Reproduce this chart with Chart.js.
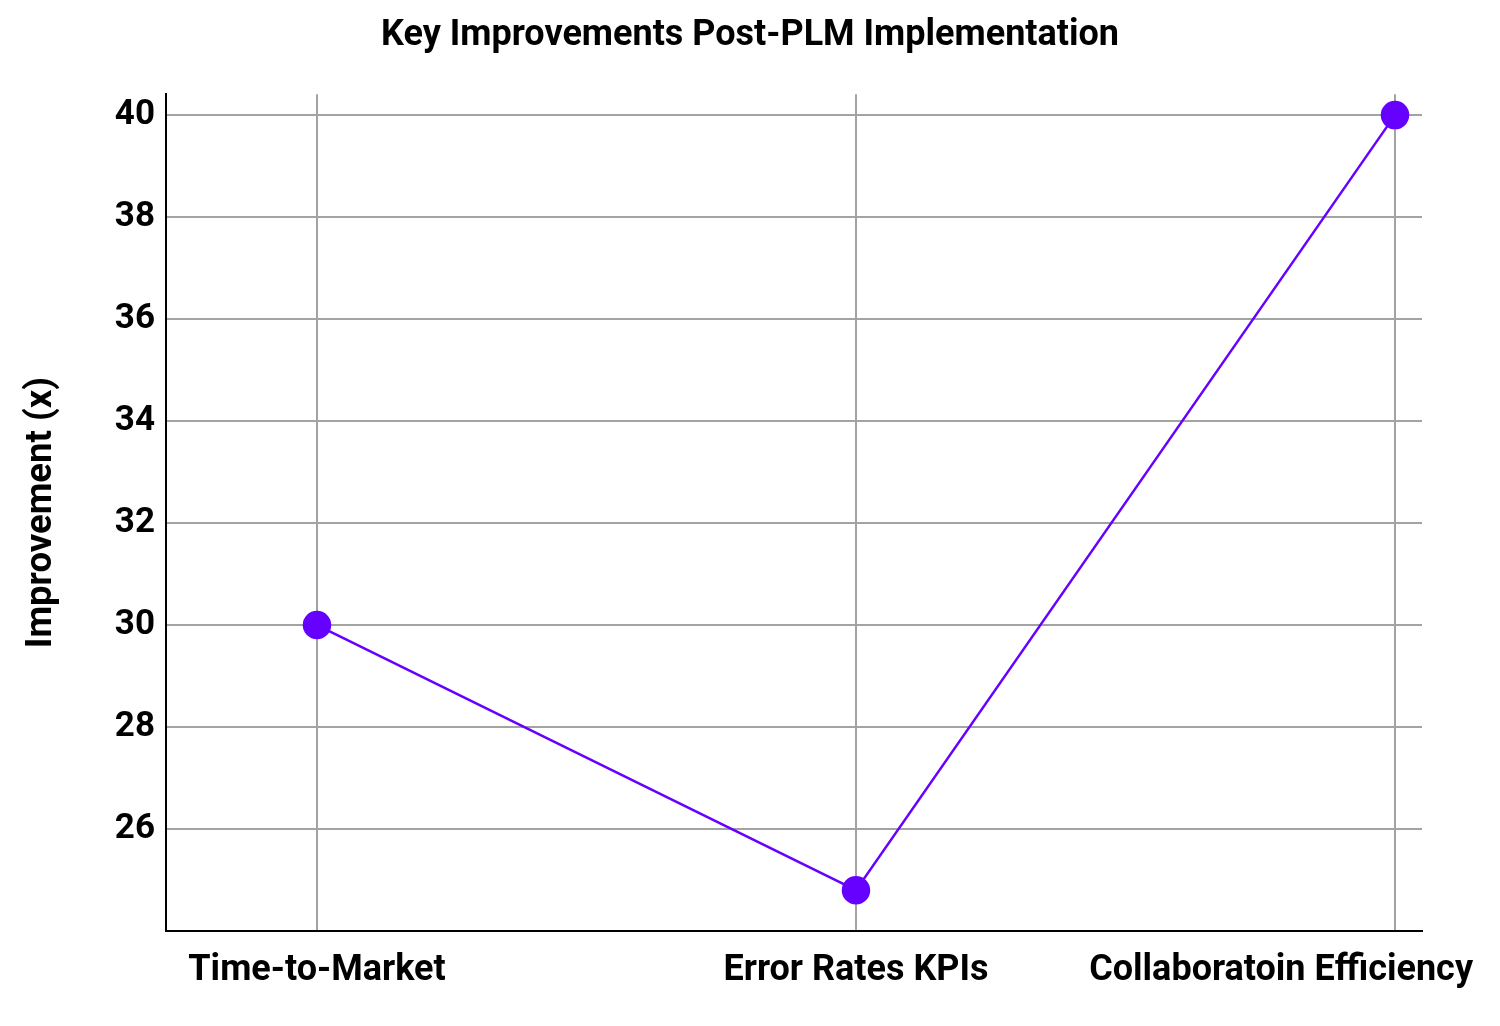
<!DOCTYPE html>
<html>
<head>
<meta charset="utf-8">
<script src="https://cdn.jsdelivr.net/npm/chart.js@4"></script>
<style>
  html, body { margin: 0; padding: 0; background: #fff; }
  #wrap { width: 1500px; height: 1026px; }
</style>
</head>
<body>
<div id="wrap"><canvas id="improvements"></canvas></div>
<script>
// chart data
const categories = ["Time-to-Market", "Error Rates KPIs", "Collaboratoin Efficiency"];
const improvement = [30, 24.8, 40];
const yTicks = [26, 28, 30, 32, 34, 36, 38, 40];

const FONT = "Roboto";
const PURPLE = "#6600ff";
const GRID = "#a3a3a3";

// x labels drawn by hand so the long last one can be pulled back inside the canvas
const xLabels = {
  id: "xLabels",
  afterDraw(chart) {
    const ctx = chart.ctx;
    const xs = chart.scales.x;
    ctx.save();
    ctx.font = "bold 36px " + FONT;
    ctx.fillStyle = "#000";
    ctx.textAlign = "center";
    ctx.textBaseline = "alphabetic";
    categories.forEach((c, i) => {
      const w = ctx.measureText(c).width;
      let x = xs.getPixelForValue(i);
      if (x + w / 2 > chart.width - 27) x = chart.width - 27 - w / 2;
      ctx.fillText(c, x, chart.chartArea.bottom + 49);
    });
    ctx.restore();
  }
};

const ctx = document.getElementById("improvements").getContext("2d");
new Chart(ctx, {
  type: "line",
  data: {
    datasets: [
      {
        label: "Improvement",
        data: categories.map((c, i) => ({ x: i, y: improvement[i] })),
        borderColor: PURPLE,
        backgroundColor: PURPLE,
        pointBackgroundColor: PURPLE,
        pointBorderColor: PURPLE,
        pointRadius: 13,
        borderWidth: 2.5,
        tension: 0
      }
    ]
  },
  plugins: [xLabels],
  options: {
    responsive: true,
    maintainAspectRatio: false,
    animation: false,
    layout: { padding: 0 },
    plugins: {
      legend: { display: false },
      tooltip: { enabled: false },
      title: {
        display: true,
        text: "Key Improvements Post-PLM Implementation",
        color: "#000",
        font: { family: FONT, size: 36, weight: "bold" },
        padding: { top: 14, bottom: 37 }
      }
    },
    scales: {
      x: {
        type: "linear",
        min: -0.2801,
        max: 2.0501,
        afterBuildTicks: scale => {
          scale.ticks = categories.map((c, i) => ({ value: i }));
        },
        afterFit: scale => {
          scale.height = 95;
        },
        ticks: { display: false },
        grid: { color: GRID, lineWidth: 2, drawTicks: false },
        border: { color: "#000", width: 2 }
      },
      y: {
        min: 24,
        max: 40.41,
        afterBuildTicks: scale => {
          scale.ticks = yTicks.map(v => ({ value: v }));
        },
        afterFit: scale => {
          scale.width = 166;
        },
        ticks: {
          color: "#000",
          padding: 11,
          font: { family: FONT, size: 35, weight: "bold" }
        },
        grid: { color: GRID, lineWidth: 2, drawTicks: false },
        border: { color: "#000", width: 2 },
        title: {
          display: true,
          text: "Improvement (x)",
          color: "#000",
          font: { family: FONT, size: 36.5, weight: "bold" },
          padding: { top: 20, bottom: 0 }
        }
      },
      // empty right margin, keeps the title centred on the whole canvas
      margin: {
        type: "linear",
        position: "right",
        display: true,
        afterFit: scale => {
          scale.width = 78;
        },
        ticks: { display: false },
        grid: { display: false, drawTicks: false },
        border: { display: false }
      }
    }
  }
});
</script>
</body>
</html>
